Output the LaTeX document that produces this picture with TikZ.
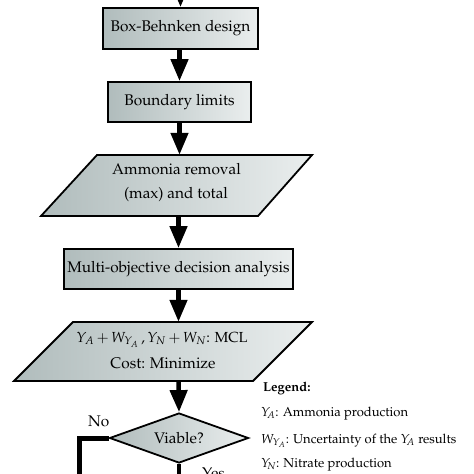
\documentclass[tikz,border=0pt]{standalone}
\usepackage[T1]{fontenc}
\usepackage{mathpazo}
\usetikzlibrary{arrows.meta,shapes.geometric}
\definecolor{boxL}{RGB}{176,188,188}
\definecolor{boxR}{RGB}{234,238,238}
\tikzset{
  mainfont/.style={font=\fontsize{15.4}{18}\selectfont},
  flowbox/.style={draw=black,line width=1.8pt,left color=boxL,right color=boxR,inner sep=0pt,mainfont},
  flowshape/.style={draw=black,line width=1.8pt,left color=boxL,right color=boxR},
  paratext/.style={inner sep=0pt,align=center,mainfont},
  flowarrow/.style={line width=4.5pt,-{Triangle[length=22pt,width=17pt]}},
  flowline/.style={line width=5pt},
  legendtext/.style={anchor=base west,inner sep=0pt,font=\fontsize{13}{15}\selectfont},
}
\begin{document}
\begin{tikzpicture}[x=1pt,y=-1pt]
\useasboundingbox (0,0) rectangle (474,474);
\clip (0,0) rectangle (474,474);

% boxes
\node[flowbox,minimum width=155pt,minimum height=41pt] (bb) at (180.5,28.5) {Box-Behnken design};
\node[flowbox,minimum width=143pt,minimum height=40pt] (bl) at (179.5,102) {Boundary limits};

\draw[flowshape] (97,155) -- (312,155) -- (258,216) -- (41,216) -- cycle;
\node[paratext,minimum width=150pt,minimum height=61pt] (p1) at (178,185.5) {};
\node[paratext,anchor=base] (p1a) at (176.5,174) {Ammonia removal};
\node[paratext,anchor=base] (p1b) at (176,198) {(max) and total};

\node[flowbox,minimum width=229pt,minimum height=40pt] (mo) at (178.5,269) {Multi-objective decision analysis};

\draw[flowshape] (73,322) -- (312,322) -- (253,381) -- (14,381) -- cycle;
\node[paratext,minimum width=150pt,minimum height=59pt] (p2) at (163,351.5) {};
\node[paratext,anchor=base,font=\fontsize{14.6}{18}\selectfont] (p2a) at (162,342) {$\medmuskip=3mu Y_A + W_{Y_A}\,, Y_N + W_N$: MCL};
\node[paratext,anchor=base] (p2b) at (163,368) {Cost: Minimize};

\node[flowbox,diamond,aspect=2.78,minimum width=139pt,minimum height=50pt] (dia) at (179,438) {Viable?};

% connectors
\coordinate (topin) at (180.5,-30);
\draw[flowarrow] (topin) -- (bb.north);
\draw[flowarrow] (bb.south -| bl.north) -- (bl.north);
\draw[flowarrow] (bl.south) -- (bl.south |- p1.north);
\draw[flowarrow] (p1.south -| mo.north) -- (mo.north);
\draw[flowarrow] (mo.south) -- (mo.south |- p2.north);
\draw[flowarrow] (mo.south |- p2.south) -- (dia.north);

\coordinate (nocorner) at (79,438);
\coordinate (noend) at (79,490);
\draw[flowline] (dia.west) -- (nocorner) -- (noend);
\coordinate (yesend) at (179,490);
\draw[line width=4.5pt] (dia.south) -- (yesend);

\node[anchor=base west,inner sep=0pt,mainfont] (nolab) at (88,426) {No};
\node[anchor=base west,inner sep=0pt,mainfont] (yeslab) at (202,478) {Yes};

% legend
\node[legendtext] (lg0) at (263,391) {\textbf{Legend:}};
\node[legendtext] (lg1) at (261,416) {$Y_{\!A}$: Ammonia production};
\node[legendtext] (lg2) at (261,443) {$W_{Y_A}$: Uncertainty of the $Y_{\!A}$ results};
\node[legendtext] (lg3) at (261,467) {$Y_{\!N}$: Nitrate production};
\end{tikzpicture}
\end{document}
